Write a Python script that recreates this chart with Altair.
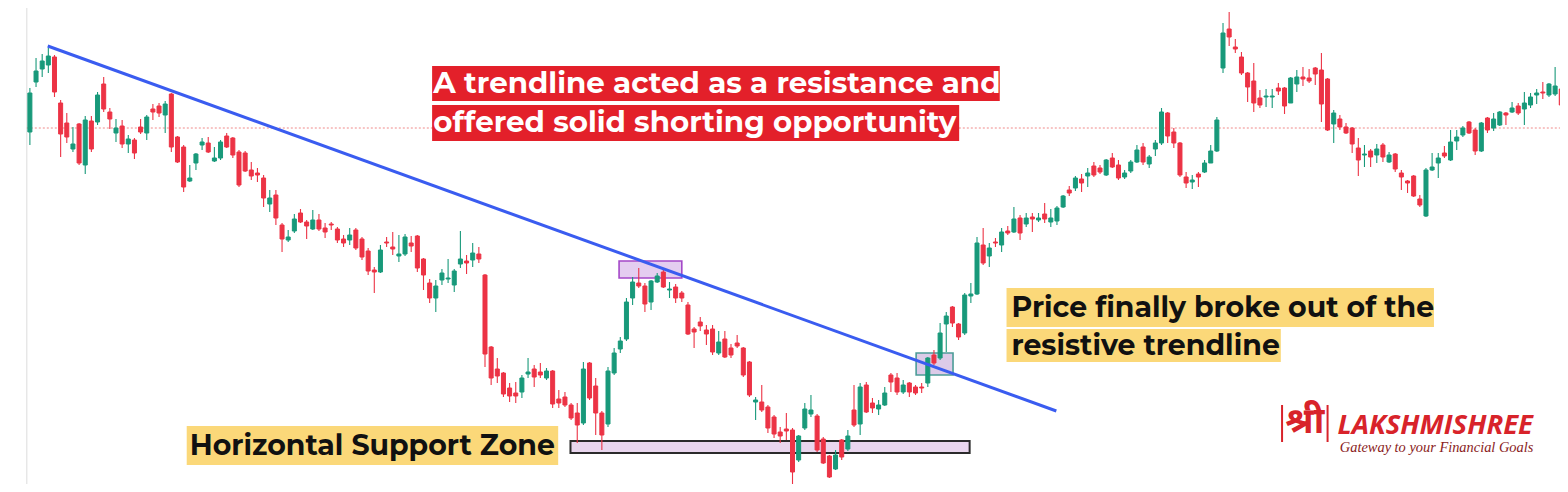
import altair as alt
import pandas as pd

# ---------------- candle data (index, open, high, low, close) ----------------
opens = [368,418,431,435,443,397,377,351,376,335,379,378,416,388,367,374,356,360,373,367,
         391,394,385,406,363,353,319,337,355,357,339,342,364,362,348,347,330,327,322,296,
         305,275,260,269,287,278,271,280,272,276,271,261,260,270,261,249,230,228,258,253,
         244,246,257,264,241,217,202,220,221,215,236,239,240,246,225,153,131,127,112,107,
         108,126,131,128,122,129,101,103,95,87,77,137,114,87,76,127,151,161,202,217,
         214,198,218,228,210,213,207,195,171,178,170,171,147,161,152,157,152,138,98,98,
         93,83,68,71,70,40,72,86,84,61,44,31,60,51,90,76,115,97,91,95,
         125,122,108,117,113,113,117,145,142,176,193,176,167,204,206,255,244,258,255,269,
         268,282,276,283,280,286,278,279,293,310,312,321,324,334,332,325,342,335,323,329,
         338,353,336,351,357,387,368,357,323,318,326,328,337,349,432,471,453,443,427,419,
         402,403,403,412,412,397,416,423,422,432,430,421,376,381,373,372,352,345,349,345,
         355,338,346,327,319,324,301,284,330,337,347,340,359,365,378,370,349,382,372,375,
         387,388,394,391,395,405,408,405,406,411]
highs = [412,442,446,452,445,400,387,373,377,384,384,408,423,392,381,380,365,362,381,385,
         396,397,399,407,364,355,335,347,362,363,353,360,367,363,350,349,338,332,325,310,
         310,277,270,286,291,280,290,286,277,278,273,265,272,272,263,252,233,255,263,268,
         265,266,264,265,242,221,220,231,241,231,269,245,257,253,226,154,142,128,117,118,
         125,142,135,137,132,130,110,108,97,97,138,138,122,89,133,152,163,202,223,232,
         217,220,227,232,218,216,209,198,173,183,175,175,169,169,156,165,153,139,103,115,
         95,85,73,87,72,65,97,105,86,63,45,50,61,70,115,117,118,102,100,113,
         127,127,120,118,115,117,143,150,177,188,194,177,207,217,263,272,257,262,272,274,
         293,285,287,287,287,297,291,294,305,314,324,326,332,338,335,341,347,340,330,340,
         355,357,345,360,392,388,372,358,328,325,328,340,355,383,477,488,461,448,428,437,
         410,411,411,417,413,423,430,433,431,433,447,422,390,385,377,373,362,355,351,356,
         357,348,347,330,320,325,305,332,347,347,354,370,370,374,379,372,378,383,387,389,
         388,398,397,408,407,411,418,417,433,415]
lows = [355,413,423,427,403,343,357,348,335,326,348,375,388,371,358,352,347,341,366,360,
        380,383,367,348,337,308,318,330,350,347,338,340,352,342,313,328,320,318,293,288,
        275,248,258,267,277,261,270,269,262,270,257,253,255,250,240,225,207,227,253,245,
        238,244,248,228,210,197,188,215,217,208,232,226,233,237,133,115,117,103,98,97,
        102,122,113,122,120,92,92,93,80,57,75,100,65,50,73,125,147,159,195,212,
        188,190,217,212,202,197,198,165,152,169,155,145,145,142,142,152,123,103,80,88,
        67,62,57,60,13,38,70,83,48,36,22,30,40,49,73,65,87,87,85,94,
        108,105,106,103,105,107,113,135,140,148,173,160,165,197,205,235,233,253,248,265,
        267,260,273,268,278,277,273,275,292,304,309,308,313,323,326,324,332,320,321,327,
        337,335,332,344,355,357,352,323,312,311,313,327,337,348,427,454,447,425,398,388,
        392,393,392,405,386,397,408,414,417,415,378,369,357,370,366,347,324,333,333,337,
        338,337,328,310,307,303,293,283,329,322,342,339,350,363,366,345,348,367,369,374,
        375,387,385,375,392,396,401,403,404,390]
closes = [407,429,439,444,408,366,363,356,337,380,351,405,391,381,372,356,361,347,368,383,
          388,387,396,353,338,313,322,346,358,348,342,358,353,345,315,329,324,325,302,302,
          282,261,263,281,278,274,280,271,268,275,260,257,265,252,243,229,228,250,257,251,
          246,263,254,232,225,202,214,227,222,229,241,237,247,241,146,122,124,106,104,104,
          122,128,123,125,129,96,97,95,82,75,131,102,87,65,129,147,159,198,218,214,
          196,219,224,213,211,202,202,166,168,174,166,148,158,143,145,154,125,105,100,90,
          72,66,64,69,28,64,91,90,50,37,23,45,43,64,75,113,88,92,95,107,
          118,108,115,108,107,112,142,137,167,184,177,163,205,206,257,237,252,257,268,267,
          281,267,282,281,282,281,282,292,304,307,322,317,327,325,328,340,333,322,327,338,
          350,338,343,357,388,364,357,325,317,320,323,337,349,380,467,463,451,427,413,397,
          395,404,404,409,394,422,423,421,419,426,396,370,387,373,367,356,340,346,343,351,
          343,345,331,323,317,304,295,330,333,342,344,358,363,372,367,349,377,370,381,388,
          385,392,387,397,403,407,407,416,414,395]

# ---------------- annotation data ----------------
x_domain = [-2.746, 247.98]
y_domain = [16, 492]

trend_x = [2.9, 166.9]
trend_y = [454, 89]

ref_level = [372]            # dotted red reference level
ref_span = [-0.5, 252]
border_x = [-0.5]

zone_x0 = [95.8, 87.9, 144.1]
zone_x1 = [106.0, 152.8, 150.1]
zone_y0 = [239, 59, 147]
zone_y1 = [222, 47, 125]
zone_fill = ["#e4cdf0", "#e9d6ee", "#dccbe8"]
zone_stroke = ["#a448c8", "#2b2b2b", "#4c9c98"]
zone_sw = [1.6, 2.0, 1.6]

RED = "#e3202a"
YEL = "#fbd879"
box_x0 = [65.4, 65.4, 158.8, 158.8, 25.5]
box_x1 = [157.7, 151.1, 228.3, 203.4, 85.9]
box_y0 = [434, 395, 212, 171, 74]
box_y1 = [399, 359, 173, 138, 35]
box_fill = [RED, RED, YEL, YEL, YEL]

label_text = ["A trendline acted as a resistance and",
              "offered solid shorting opportunity",
              "Price finally broke out of the",
              "resistive trendline",
              "Horizontal Support Zone"]
label_x = [65.6, 65.6, 159.6, 159.6, 26.0]
label_y = [416.5, 377, 192.5, 154.5, 54.5]
label_size = [29.3, 29.3, 28.4, 28.4, 28.4]
label_color = ["#ffffff", "#ffffff", "#111111", "#111111", "#111111"]

logo_text = ["श्री", "LAKSHMISHREE", "Gateway to your Financial Goals"]
logo_x = [207.3, 212.6, 213.0]
logo_y = [78, 74, 52]
logo_bar_x = [203.6, 211.0]
logo_bar_y = [95, 58]

# ---------------- frames ----------------
candles = pd.DataFrame({
    "i": list(range(len(opens))),
    "open": opens, "high": highs, "low": lows, "close": closes,
})
candles["dir"] = ["up" if c >= o else "down" for o, c in zip(opens, closes)]

xs = alt.Scale(domain=x_domain, nice=False, zero=False)
ys = alt.Scale(domain=y_domain, nice=False, zero=False)
col = alt.Color("dir:N", scale=alt.Scale(domain=["up", "down"], range=["#18997a", "#ec3345"]), legend=None)

def X(f, **k):
    return alt.X(f, type="quantitative", scale=xs, axis=None, **k)

def Y(f, **k):
    return alt.Y(f, type="quantitative", scale=ys, axis=None, **k)

border = alt.Chart(pd.DataFrame({"x": border_x})).mark_rule(color="#dcdcdc", strokeWidth=1).encode(
    x=X("x"))

ref = alt.Chart(pd.DataFrame({"y": ref_level, "x0": [ref_span[0]], "x1": [ref_span[1]]})).mark_rule(
    color="#f08a8a", strokeWidth=1, strokeDash=[2, 2], clip=True).encode(
    y=Y("y"), x=X("x0"), x2="x1")

zones = alt.Chart(pd.DataFrame({"x0": zone_x0, "x1": zone_x1, "y0": zone_y0, "y1": zone_y1,
                                "f": zone_fill, "s": zone_stroke, "w": zone_sw})).mark_rect().encode(
    x=X("x0"), x2="x1", y=Y("y0"), y2="y1",
    fill=alt.Fill("f:N", scale=None), stroke=alt.Stroke("s:N", scale=None),
    strokeWidth=alt.StrokeWidth("w:Q", scale=None))

wicks = alt.Chart(candles).mark_rule(strokeWidth=1.1, clip=True).encode(
    x=X("i"), y=Y("low"), y2="high", color=col)

bodies = alt.Chart(candles).mark_bar(size=4, strokeWidth=1, clip=True).encode(
    x=X("i"), y=Y("open"), y2="close", color=col, stroke=col)

trend = alt.Chart(pd.DataFrame({"x": trend_x, "y": trend_y})).mark_line(
    color="#3a5cf0", strokeWidth=3).encode(x=X("x"), y=Y("y"))

boxes = alt.Chart(pd.DataFrame({"x0": box_x0, "x1": box_x1, "y0": box_y0, "y1": box_y1,
                                "f": box_fill})).mark_rect().encode(
    x=X("x0"), x2="x1", y=Y("y0"), y2="y1", fill=alt.Fill("f:N", scale=None))

labels = alt.Chart(pd.DataFrame({"t": label_text, "x": label_x, "y": label_y, "c": label_color,
                                 "s": label_size})).mark_text(
    align="left", baseline="middle", font="Montserrat, Open Sans", fontWeight="bold").encode(
    x=X("x"), y=Y("y"), text="t:N", color=alt.Color("c:N", scale=None),
    size=alt.Size("s:Q", scale=None))

logo_bars = alt.Chart(pd.DataFrame({"x": logo_bar_x, "y0": [logo_bar_y[0]] * 2,
                                    "y1": [logo_bar_y[1]] * 2})).mark_rule(
    color="#d8232a", strokeWidth=2).encode(x=X("x"), y=Y("y0"), y2="y1")

logo_df = pd.DataFrame({"t": logo_text, "x": logo_x, "y": logo_y})
logo1 = alt.Chart(logo_df.iloc[[0]]).mark_text(
    align="center", baseline="middle", font="Noto Sans Devanagari, Noto Sans, sans-serif",
    fontSize=36, fontWeight="bold", color="#d8232a").encode(x=X("x"), y=Y("y"), text="t:N")
logo2 = alt.Chart(logo_df.iloc[[1]]).mark_text(
    align="left", baseline="middle", font="Open Sans", fontSize=27.5, fontWeight="bold",
    fontStyle="italic", color="#d8232a").encode(x=X("x"), y=Y("y"), text="t:N")
logo3 = alt.Chart(logo_df.iloc[[2]]).mark_text(
    align="left", baseline="middle", font="Liberation Serif", fontSize=14.4,
    fontStyle="italic", color="#8a1c1c").encode(x=X("x"), y=Y("y"), text="t:N")

chart = alt.layer(border, ref, zones, wicks, bodies, trend, boxes, labels,
                  logo_bars, logo1, logo2, logo3).properties(
    width=1552, height=476, padding=0, autosize=alt.AutoSizeParams(type="none"),
    background="#ffffff").configure_view(stroke=None)

chart.save("out.html", embed_options={"renderer": "svg", "actions": False})
